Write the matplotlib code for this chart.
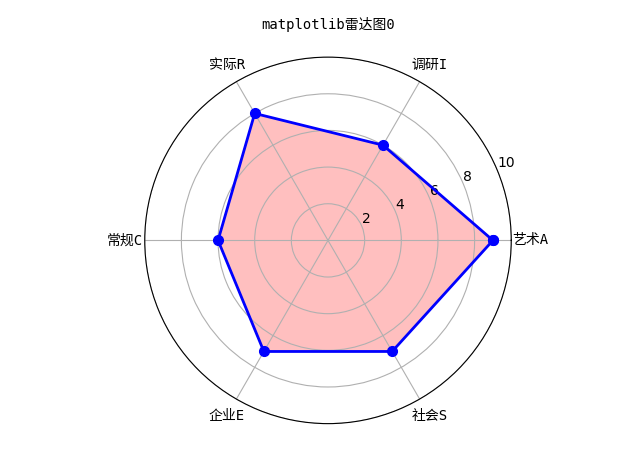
"""Radar chart: matplotlib雷达图0."""

import matplotlib

matplotlib.use("Agg")
import matplotlib.pyplot as plt
import numpy as np

labels = ["艺术A", "调研I", "实际R", "常规C", "企业E", "社会S"]
values = [9, 6, 8, 6, 7, 7]
rticks = [2, 4, 6, 8, 10]

CJK = ["DejaVu Sans Mono", "Noto Sans CJK SC"]

angles = np.linspace(0, 2 * np.pi, len(labels), endpoint=False)
closed_angles = np.concatenate([angles, angles[:1]])
closed_values = values + values[:1]

fig = plt.figure(figsize=(6.4, 4.76), dpi=100)
ax = fig.add_subplot(111, polar=True)
ax.plot(closed_angles, closed_values, "bo-", linewidth=2, markersize=7)
ax.fill(closed_angles, closed_values, color="r", alpha=0.25)
ax.set_thetagrids(np.degrees(angles), labels, family=CJK, fontsize=10)
ax.set_ylim(0, 10)
ax.set_rticks(rticks)
ax.set_rlabel_position(22.5)
ax.grid(True)
ax.set_title("matplotlib雷达图0", family=CJK, fontsize=10, pad=20)

plt.savefig("out.png", dpi=100)
plt.close()
